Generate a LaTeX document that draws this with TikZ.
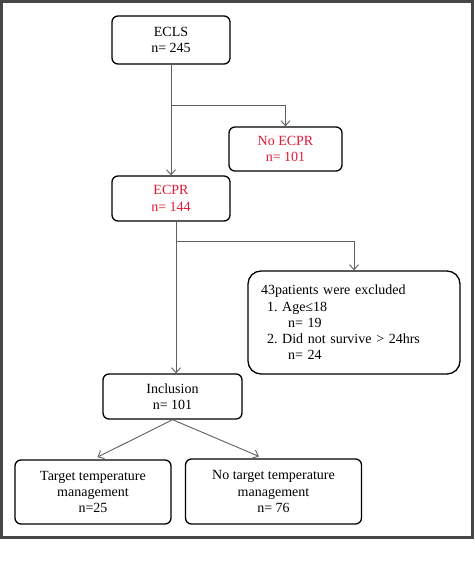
\documentclass[tikz,border=0pt]{standalone}
\usepackage{fontspec}
\setmainfont{Liberation Serif}
\usetikzlibrary{arrows.meta,positioning}
\definecolor{ecprred}{RGB}{225,25,55}
\definecolor{linegray}{RGB}{95,95,95}
\frenchspacing

\begin{document}
\begin{tikzpicture}[x=1pt,y=-1pt]
\tikzset{
  flowbox/.style={draw,rounded corners=6pt,line width=1.3pt,align=center,inner sep=0pt,
    font=\fontsize{14}{16.3}\selectfont},
  flowarrow/.style={-{Straight Barb[length=5pt,width=9pt]},linegray,line width=0.9pt},
  flowline/.style={linegray,line width=0.9pt}
}
\useasboundingbox (0,0) rectangle (474,561);
\draw[line width=3pt,gray!55!black] (1.5,1.5) rectangle (472.5,537);
\node[flowbox,minimum width=118pt,minimum height=48pt] (n_ecls) at (171,40) {ECLS\\n= 245};
\node[flowbox,minimum width=113pt,minimum height=44pt,text=ecprred] (n_noecpr) at (285.5,149) {No ECPR\\n= 101};
\node[flowbox,minimum width=118pt,minimum height=45pt,text=ecprred] (n_ecpr) at (171,198.5) {ECPR\\n= 144};
\node[flowbox,rounded corners=13pt,minimum height=103pt,text width=186pt,inner xsep=13pt,align=left] (n_excl) at (354,322.5)
  {43patients were excluded\\
   \hspace*{6pt}1. Age≤18\\
   \hspace*{27pt}n= 19\\
   \hspace*{6pt}2. Did not survive > 24hrs\\
   \hspace*{27pt}n= 24};
\node[flowbox,minimum width=139pt,minimum height=45pt] (n_incl) at (172.5,396.5) {Inclusion\\n= 101};
\node[flowbox,minimum width=156pt,minimum height=64pt] (n_ttm) at (93,492) {Target temperature\\management\\n=25};
\node[flowbox,minimum width=176pt,minimum height=65pt] (n_nottm) at (273.5,491.5) {No target temperature\\management\\n= 76};
% split points
\coordinate (c_split1) at (171,105);
\coordinate (c_split2) at (176,241);
\draw[flowarrow] (n_ecls) -- (n_ecpr);
\draw[flowarrow] (c_split1) -| (n_noecpr.north);
\draw[flowarrow] (n_ecpr.south -| c_split2) -- (c_split2 |- n_incl.north);
\draw[flowarrow] (c_split2) -| (n_excl.north);
\draw[flowarrow,shorten >=5pt] (n_incl.south) -- (n_ttm.north);
\draw[flowarrow,shorten >=5pt] (n_incl.south) -- ([xshift=-10pt]n_nottm.north);
\end{tikzpicture}
\end{document}
